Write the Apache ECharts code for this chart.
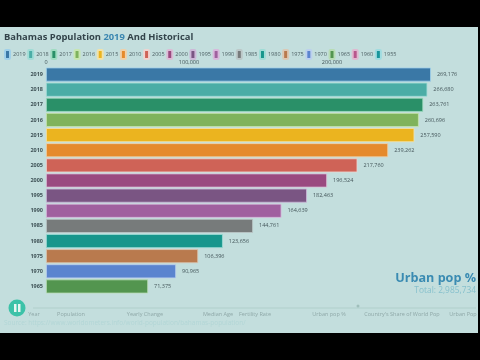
<!DOCTYPE html>
<html><head><meta charset="utf-8">
<script src="https://cdn.jsdelivr.net/npm/echarts@6/dist/echarts.min.js"></script>
<style>
html,body{margin:0;padding:0;background:#000;width:480px;height:360px;overflow:hidden}
#bg{position:absolute;left:0;top:27px;width:478px;height:306px;background:#c3dedd}
#c{position:absolute;left:0;top:0;width:480px;height:360px}
</style></head><body><div id="bg"></div><div id="c"></div>
<script>
const legendYears=['2019','2018','2017','2016','2015','2010','2005','2000','1995','1990','1985','1980','1975','1970','1965','1960','1955'];
const categories=['2019','2018','2017','2016','2015','2010','2005','2000','1995','1990','1985','1980','1975','1970','1965'];
const population=[269176,266680,263761,260696,257590,239262,217760,196524,182463,164639,144761,123656,106396,90965,71375];
const palette=['#3a78a6','#4bada6','#2a9068','#7fb35c','#ebb41f','#e58a2c','#cf6357','#9a4a80','#7a5583','#a0609f','#777b7b','#17968c','#b97a4e','#5b84cf','#53954f','#b8568c','#17969b'];
const halo=['#9fd0ea','#a0dcd6','#9fdcc0','#c8e6b0','#f2e2a8','#f0d0a8','#efd4d0','#dcbcd6','#cdb8d8','#d8b8dc','#bcc8c8','#9fdcd6','#dcc8b4','#bcd0ee','#b8dcb4','#e0b8d0','#9fdce0'];
const footerLabels=['Year','Population','Yearly Change','Median Age','Fertility Rate','Urban pop %',"Country's Share of World Pop",'Urban Pop'];
const footerX=[34,71,145,218,255,329,402,463];
const titleParts=['Bahamas Population ','2019',' And Historical'];
const sideTitle='Urban pop %', sideTotal='Total: 2,985,734';
const source='Source: https://www.worldometers.info/world-population/bahamas-population/';

const fmt=v=>v.toLocaleString('en-US');
const font='"Open Sans",sans-serif';
const series=legendYears.map((y,i)=>({
  name:y,type:'bar',stack:'all',barWidth:14,
  itemStyle:{color:palette[i],borderColor:halo[i],borderWidth:0.8},
  label:{show:true,position:'right',distance:6,fontSize:5.5,fontFamily:font,color:'#44565a',formatter:p=>fmt(p.value)},
  data:categories.map((c,j)=>c===y?population[j]:null)
}));
const g=[
 {type:'text',left:4,top:33,style:{rich:{a:{font:'bold 9.4px '+font,fill:'#33434a'},b:{font:'bold 9.4px '+font,fill:'#3a86b0'}},
   text:'{a|'+titleParts[0]+'}{b|'+titleParts[1]+'}{a|'+titleParts[2]+'}'}},
 {type:'text',right:4,top:272,style:{text:sideTitle,font:'bold 12.6px '+font,fill:'#3a8bb2'}},
 {type:'text',right:4,top:287,style:{text:sideTotal,font:'8.4px '+font,fill:'#86c0cc'}},
 {type:'line',shape:{x1:33,y1:308,x2:476,y2:308},style:{stroke:'#b0cfcb',lineWidth:1}},
 {type:'circle',shape:{cx:17,cy:308,r:8.5},style:{fill:'#3cc2a8'}},
 {type:'rect',shape:{x:14,y:304,width:2.5,height:8},style:{fill:'#e8f6f2'}},
 {type:'rect',shape:{x:18,y:304,width:2.5,height:8},style:{fill:'#e8f6f2'}},
 {type:'circle',shape:{cx:358,cy:306,r:1.5},style:{fill:'#9fbfbb'}},
 {type:'text',left:4,top:320,style:{text:source,font:'6.5px '+font,fill:'#b2d6d6'}}
];
footerLabels.forEach((t,i)=>g.push({type:'text',x:footerX[i],y:311,style:{text:t,font:'5.5px '+font,fill:'#8fa8a8',textAlign:'center'}}));
const chart=echarts.init(document.getElementById('c'),null,{renderer:'canvas'});
chart.setOption({
  animation:false,backgroundColor:'transparent',
  grid:{left:46,top:67,width:429,height:227,containLabel:false},
  legend:{left:4,top:49,data:legendYears,icon:'roundRect',itemWidth:5,itemHeight:9,itemGap:1.6,padding:0,
    textStyle:{fontSize:5.5,color:'#4c5f63',fontFamily:font,padding:[0,0,0,-2]}},
  xAxis:{type:'value',position:'top',min:0,max:300000,interval:100000,splitLine:{show:false},axisLine:{show:false},axisTick:{show:false},
    axisLabel:{fontSize:5.5,color:'#3f5256',fontFamily:font,margin:1.5,showMaxLabel:false,formatter:v=>fmt(v)}},
  yAxis:{type:'category',inverse:true,data:categories,axisLine:{show:false},axisTick:{show:false},
    axisLabel:{fontSize:5.5,fontWeight:'bold',color:'#3f5256',fontFamily:font,margin:3}},
  series,
  graphic:g
});
</script></body></html>
